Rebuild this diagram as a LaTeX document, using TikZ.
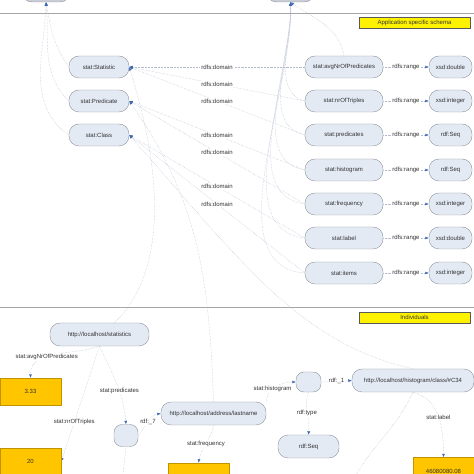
\documentclass[tikz,border=0pt]{standalone}
\usepackage{fontspec}
\setmainfont{Liberation Sans}
\usetikzlibrary{arrows.meta,positioning,backgrounds}

\definecolor{resfill}{HTML}{E4EAF4}
\definecolor{resline}{HTML}{8E939A}
\definecolor{topfill}{HTML}{C9CED6}
\definecolor{linkline}{HTML}{B2BCD0}
\definecolor{tipblue}{HTML}{3C68B0}
\definecolor{litfill}{HTML}{FFC600}
\definecolor{sepline}{HTML}{A6A6A6}
\definecolor{txtgray}{HTML}{333333}

\tikzset{
  txt/.style={font=\fontsize{6}{7}\selectfont, text=txtgray},
  res/.style={txt, draw=resline, fill=resfill, rounded corners=10pt, minimum height=22pt, inner sep=1pt},
  topres/.style={draw=resline, fill=topfill, rounded corners=10pt, minimum height=22pt, minimum width=48pt},
  cls/.style={res, minimum width=60pt},
  prop/.style={res, minimum width=78pt},
  rng/.style={res, minimum width=43pt},
  blank/.style={res, minimum width=24pt, rounded corners=8pt},
  lit/.style={txt, draw=litfill!75!black, fill=litfill, minimum width=61pt, minimum height=27pt},
  banner/.style={txt, draw=black!65, fill=yellow, minimum width=111pt, minimum height=11pt, inner sep=0pt},
  link/.style={draw=linkline, densely dotted, line width=0.45pt, -{Latex[length=3.5pt,width=3pt,color=tipblue]}},
  lbl/.style={txt, fill=white, inner sep=1pt},
  sep/.style={draw=sepline, line width=0.8pt}
}

\begin{document}
\begin{tikzpicture}[x=1pt,y=1pt]
\useasboundingbox (0,0) rectangle (474,474);

% column positions
\def\clsx{99}
\def\propx{344}
\def\rngx{450.5}

%top nodes (cut by the page)
\node[topres] (thing) at (46,483) {};
\node[topres] (property) at (290.5,483) {};

%separating lines and banners
\draw[sep] (0,461) -- (474,461);
\draw[sep] (0,167) -- (474,167);
\node[banner] (schema) at (414.5,451.5) {Application specific schema};
\node[banner] (indiv) at (414.5,156.5) {Individuals};

%classes
\node[cls] (cstat) at (\clsx,407) {stat:Statistic};
\node[cls] (cpred) at (\clsx,373) {stat:Predicate};
\node[cls] (ccls) at (\clsx,339) {stat:Class};

%properties with their ranges
\foreach \nm/\lab/\rg/\yy in {avg/stat:avgNrOfPredicates/xsd:double/407,
    nr/stat:nrOfTriples/xsd:integer/373, pred/stat:predicates/rdf:Seq/339,
    hist/stat:histogram/rdf:Seq/304, freq/stat:frequency/xsd:integer/270,
    lab/stat:label/xsd:double/236, items/stat:items/xsd:integer/201}{
  \node[prop] (p\nm) at (\propx,\yy) {\lab};
  \node[rng] (r\nm) at (\rngx,\yy) {\rg};
  \begin{scope}[on background layer]
  \draw[link] (p\nm.east) -- node[lbl]{rdfs:range} (r\nm.west);
  \end{scope}
}

%individuals
\node[res, minimum width=99pt, minimum height=23pt] (stats) at (99.5,139.5) {http://localhost/statistics};
\node[lit] (lita) at (30.5,82.5) {3.33};
\node[lit] (litb) at (30.5,12.5) {20};
\node[blank] (bna) at (126,38.5) {};
\node[res, minimum width=105pt, minimum height=23pt] (last) at (213.5,60.5) {http://localhost/address/lastname};
\node[lit] (litc) at (198.5,-2.5) {};
\node[blank, minimum width=25pt, minimum height=20pt] (bnb) at (308.5,92) {};
\node[res, minimum width=122pt, minimum height=23pt] (hcls) at (413,93.5) {http://localhost/histogram/class/\#C34};
\node[res, minimum width=61pt, minimum height=23pt] (seq) at (308.5,27.5) {rdf:Seq};
\node[lit] (litd) at (443.5,3) {46080080.08};
\coordinate (offa) at (120,-30);
\coordinate (offb) at (345,-30);

\begin{scope}[on background layer]
%domains
\foreach \nm/\cl in {avg/cstat, nr/cstat, pred/cstat, hist/cpred, freq/cpred, lab/ccls, items/ccls}
  \draw[link] (p\nm.west) -- node[lbl]{rdfs:domain} (\cl.east);

%up to the top nodes
\draw[link] (cstat.west) to[out=125,in=-80] (thing.south);
\draw[link] (cpred.west) to[out=135,in=-85] (thing.south);
\draw[link] (ccls.west) to[out=145,in=-92] (thing.south);
\draw[link] (pavg.north) to[out=100,in=-35] (property.south);
\foreach \nm/\ang/\lo in {nr/165/0.9, pred/168/0.9, hist/170/0.9, freq/172/0.88, lab/174/0.86, items/176/0.85}
  \draw[link] (p\nm.west) to[out=\ang,in=-88,looseness=\lo] (property.south);

%types of the individuals
\draw[link] ([xshift=15pt]stats.north) .. controls (180,215) and (150,340) .. (cstat.east);
\draw[link] (last.north) to[out=92,in=-55] (cpred.east);
\draw[link] (hcls.north) .. controls (300,130) and (240,214) .. (ccls.east);

%statements
\draw[link] (stats.south) to[out=200,in=90] node[lbl,pos=0.6]{stat:avgNrOfPredicates} (lita.north);
\draw[link] (stats.south) -- node[lbl,pos=0.66]{stat:nrOfTriples} (litb.east);
\draw[link] (stats.south) to[out=-65,in=95] node[lbl,pos=0.6]{stat:predicates} (bna.north);
\draw[link] (bna.east) to[out=50,in=190] node[lbl]{rdf:\_7} (last.west);
\draw[link] (last.south) to[out=-100,in=80] node[lbl]{stat:frequency} (litc.north);
\draw[link] (last.12) to[out=90,in=180] node[lbl,pos=0.4]{stat:histogram} (bnb.west);
\draw[link] (bnb.east) -- node[lbl]{rdf:\_1} (hcls.west);
\draw[link] (bnb.south) to[out=-110,in=85] node[lbl]{rdf:type} (seq.north);
\draw[link] (hcls.south) to[out=-15,in=90] node[lbl]{stat:label} (litd.north);
\draw[link] (hcls.south) to[out=-115,in=75] (offb);
\draw[link] (bna.south) -- (offa);
\end{scope}
\end{tikzpicture}
\end{document}
